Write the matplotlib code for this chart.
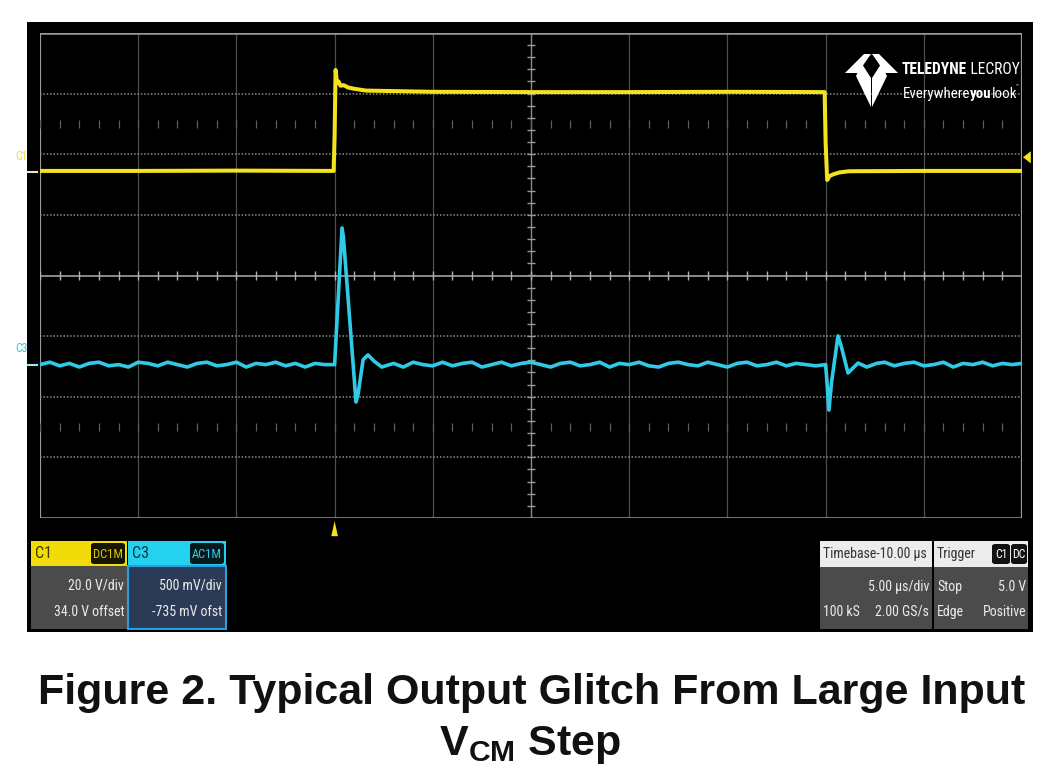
import matplotlib
matplotlib.use('Agg')
import matplotlib.pyplot as plt
from matplotlib import font_manager as fm
from matplotlib.patches import Rectangle, FancyBboxPatch, Polygon
import numpy as np

plt.rcParams['mathtext.fontset'] = 'custom'
plt.rcParams['mathtext.rm'] = 'Liberation Sans:bold'
plt.rcParams['mathtext.it'] = 'Liberation Sans:bold:italic'
plt.rcParams['mathtext.bf'] = 'Liberation Sans:bold'

W, H = 1063, 768
YELLOW = '#f3e21c'
CYAN = '#2fcbe6'

# pick a condensed face if one is installed, else Liberation Sans at a smaller size
_names = {f.name for f in fm.fontManager.ttflist}
NARROW, NSTRETCH, SC = None, 'normal', 0.84
for cand in ['Liberation Sans Narrow', 'Roboto Condensed', 'Open Sans Condensed',
             'Noto Sans Condensed', 'DejaVu Sans Condensed', 'Arial Narrow']:
    if cand in _names:
        NARROW, SC = cand, 1.0
        break
if NARROW is None:
    for f in fm.fontManager.ttflist:
        st = f.stretch
        if isinstance(st, str) and 'condensed' in st and f.name in ('Roboto', 'Open Sans', 'Noto Sans', 'DejaVu Sans'):
            NARROW, NSTRETCH, SC = f.name, st, 1.0
            break
if NARROW is None:
    NARROW = 'Liberation Sans'

# ---------------- scope settings ----------------
TDIV = 5.0            # us/div
T_LEFT = -15.0        # us at left edge (trigger at 0, delay -10 us)
C1_VDIV, C1_OFS = 20.0, 34.0      # V/div, V offset
C3_VDIV, C3_OFS = 0.5, -0.735     # V/div, V offset
TRIG_LEVEL = 5.0

# ---------------- C1 (input step, volts) ----------------
C1_t = [-15.0, -10.0, -5.0, -0.05, 0.0, 0.05, 0.12, 0.2, 0.3, 0.45, 0.7, 1.0,
        1.6, 5.0, 10.0, 15.0, 20.0, 24.95, 25.0, 25.08, 25.2, 25.4, 25.7, 26.2,
        30.0, 35.0]
C1_v = [0.5, 0.5, 0.6, 0.5, 12.0, 33.8, 29.5, 30.0, 28.6, 28.8, 28.0, 27.6,
        27.0, 26.6, 26.5, 26.5, 26.6, 26.5, 10.0, -2.5, -1.2, -0.6, 0.0, 0.4,
        0.5, 0.5]

# ---------------- C3 (output, volts, AC coupled) ----------------
C3_t = [-15.0, -14.5, -14.0, -13.5, -13.0, -12.5, -12.0, -11.5, -11.0, -10.5,
        -10.0, -9.5, -9.0, -8.5, -8.0, -7.5, -7.0, -6.5, -6.0, -5.5,
        -5.0, -4.5, -4.0, -3.5, -3.0, -2.5, -2.0, -1.5, -1.0, -0.5,
        0.0, 0.05, 0.38, 0.45, 1.09, 1.2, 1.45, 1.70, 2.0, 2.4,
        3.0, 3.5, 4.0, 4.5, 5.0, 5.5, 6.0, 6.5, 7.0, 7.5,
        8.0, 8.5, 9.0, 9.5, 10.0, 10.5, 11.0, 11.5, 12.0, 12.5,
        13.0, 13.5, 14.0, 14.5, 15.0, 15.5, 16.0, 16.5, 17.0, 17.5,
        18.0, 18.5, 19.0, 19.5, 20.0, 20.5, 21.0, 21.5, 22.0, 22.5,
        23.0, 23.5, 24.0, 24.5,
        25.0, 25.05, 25.17, 25.3, 25.63, 25.8, 26.14, 26.65, 27.1, 27.6,
        28.0, 28.5, 29.0, 29.5, 30.0, 30.5, 31.0, 31.5, 32.0, 32.5,
        33.0, 33.5, 34.0, 34.5, 35.0]
C3_v = [0.00, 0.02, -0.01, 0.01, -0.02, 0.01, 0.02, -0.01, 0.00, -0.02,
        0.02, 0.01, -0.01, 0.02, 0.00, -0.02, 0.01, 0.02, -0.01, 0.00,
        0.02, -0.02, 0.01, 0.00, 0.02, -0.01, 0.01, -0.02, 0.01, 0.00,
        0.00, 0.15, 1.127, 1.05, -0.309, -0.24, 0.04, 0.08, 0.03, -0.02,
        0.01, -0.02, 0.02, 0.00, -0.01, 0.02, -0.01, 0.01, 0.02, -0.02,
        0.00, 0.02, -0.01, 0.01, 0.02, 0.00, -0.02, 0.01, 0.02, -0.01,
        0.00, 0.02, -0.02, 0.01, 0.00, 0.02, -0.01, -0.02, 0.01, 0.02,
        0.00, -0.01, 0.02, 0.00, -0.02, 0.01, 0.02, -0.01, 0.00, 0.02,
        -0.01, 0.01, 0.00, -0.01,
        0.00, -0.10, -0.375, -0.15, 0.237, 0.15, -0.069, 0.013, -0.02, 0.01,
        0.02, -0.01, 0.01, 0.02, -0.01, 0.00, 0.02, -0.02, 0.01, 0.00,
        0.02, -0.01, 0.01, 0.00, 0.01]


def to_div(v, vdiv, ofs):
    return (np.asarray(v, dtype=float) + ofs) / vdiv


def fx(x):
    return x / W


def fy(y):
    return 1 - y / H


fig = plt.figure(figsize=(W / 100, H / 100), dpi=100)
fig.patch.set_facecolor('white')
renderer = fig.canvas.get_renderer()


def frect(x0, y0, x1, y1, color, ec='none', lw=0, z=1):
    fig.patches.append(Rectangle((fx(x0), fy(y1)), (x1 - x0) / W, (y1 - y0) / H,
                                 transform=fig.transFigure, facecolor=color,
                                 edgecolor=ec, lw=lw, zorder=z))


def fbox(x0, y0, x1, y1, color, z=2):
    fig.patches.append(FancyBboxPatch((fx(x0), fy(y1)), (x1 - x0) / W, (y1 - y0) / H,
                                      boxstyle='round,pad=0,rounding_size=0.003',
                                      transform=fig.transFigure, facecolor=color,
                                      edgecolor='none', zorder=z))


def ftext(x, y, s, color, size, ha='left', va='center', weight='normal'):
    return fig.text(fx(x), fy(y), s, color=color, fontsize=size * SC, ha=ha, va=va,
                    fontweight=weight, family=NARROW, fontstretch=NSTRETCH, zorder=5)


def chain(x, y, parts, size, color='white'):
    for s, wgt in parts:
        t = ftext(x, y, s, color, size, weight=wgt)
        x += t.get_window_extent(renderer).width


def fpoly(pts, color, z=3):
    fig.patches.append(Polygon([(fx(a), fy(b)) for a, b in pts], closed=True,
                               transform=fig.transFigure, facecolor=color,
                               edgecolor='none', zorder=z))


# black scope background
frect(27, 22, 1033, 632, 'black', z=-5)

# ---------------- grid axes ----------------
ax = fig.add_axes([fx(40), fy(518), 982 / W, 485 / H])
ax.set_xlim(T_LEFT, T_LEFT + 10 * TDIV)
ax.set_ylim(-4, 4)
ax.set_axis_off()

t_grid = [T_LEFT + k * TDIV for k in range(11)]
t_center = T_LEFT + 5 * TDIV
for k, t in enumerate(t_grid):
    if k in (0, 10):
        ax.axvline(t, color='#9a9a9a', lw=1.6, zorder=1)
    elif k == 5:
        ax.axvline(t, color='#8a8a8a', lw=1.0, zorder=1)
    else:
        ax.axvline(t, color='#4e4e4e', lw=0.9, zorder=1)
for d in range(-4, 5):
    if abs(d) == 4:
        ax.axhline(d, color='#9a9a9a', lw=1.8, zorder=1)
    elif d == 0:
        ax.axhline(d, color='#a0a0a0', lw=1.2, zorder=1)
    else:
        ax.axhline(d, color='#8c8c8c', lw=1.1, ls=(0, (1, 1.2)), zorder=1)

# minor ticks on centre cross and tick rows
minor_t = np.arange(T_LEFT, T_LEFT + 10 * TDIV + 0.01, TDIV / 5)
ax.vlines(minor_t, -0.08, 0.08, color='#b0b0b0', lw=1.0, zorder=1)
for row in (2.5, -2.5):
    ax.vlines(minor_t, row - 0.07, row + 0.07, color='#5e5e5e', lw=0.9, zorder=1)
minor_d = np.arange(-4, 4.01, 0.2)
ax.hlines(minor_d, t_center - 0.22, t_center + 0.22, color='#9a9a9a', lw=1.0, zorder=1)

# ---------------- traces ----------------
ax.plot(C1_t, to_div(C1_v, C1_VDIV, C1_OFS), color=YELLOW, lw=2.9,
        solid_joinstyle='round', zorder=5)
ax.plot(C3_t, to_div(C3_v, C3_VDIV, C3_OFS), color=CYAN, lw=2.6,
        solid_joinstyle='round', zorder=5)

# trigger position marker (bottom) and trigger level marker (right)
ax.add_patch(Polygon([(-0.17, -4.3), (0.17, -4.3), (0.0, -4.05)], closed=True,
                     facecolor=YELLOW, edgecolor='none', clip_on=False, zorder=6))
lvl = float(to_div(TRIG_LEVEL, C1_VDIV, C1_OFS))
xr = T_LEFT + 10 * TDIV
ax.add_patch(Polygon([(xr + 0.05, lvl), (xr + 0.45, lvl + 0.1), (xr + 0.45, lvl - 0.1)],
                     closed=True, facecolor=YELLOW, edgecolor='none', clip_on=False, zorder=6))

# channel labels on the left
c1_gnd = float(to_div(0, C1_VDIV, C1_OFS))
c3_gnd = float(to_div(0, C3_VDIV, C3_OFS))
for gnd, lab, col, mk in ((c1_gnd, 'C1', YELLOW, '#e8e8c0'), (c3_gnd, 'C3', CYAN, '#a0e8f0')):
    ax.text(-0.0125, gnd + 0.26, lab, transform=ax.get_yaxis_transform(), color=col,
            fontsize=8.5 * SC, ha='right', va='center', family=NARROW,
            fontstretch=NSTRETCH, clip_on=False)
    ax.plot([-0.012, -0.003], [gnd, gnd], transform=ax.get_yaxis_transform(),
            color=mk, lw=1.5, clip_on=False)

# ---------------- logo ----------------
fpoly([(845, 73), (864, 54), (871, 54), (866, 61), (858, 73)], 'white')
fpoly([(898, 73), (879, 54), (872, 54), (877, 61), (885, 73)], 'white')
fpoly([(862, 64), (871, 78), (871, 107), (856, 76)], 'white')
fpoly([(881, 64), (872, 78), (872, 107), (887, 76)], 'white')
chain(902, 69, [('TELEDYNE', 'bold'), (' LECROY', 'normal')], 11.2)
chain(903, 94, [('Everywhere', 'normal'), ('you', 'bold'), ('look', 'normal')], 10.8)
ftext(1016, 86, '\u2122', 'white', 4)

# ---------------- info panels ----------------
TXT = '#ececec'
BS = 10.0   # body text size
# C1
frect(31, 541, 127, 566, '#f1dc0a', z=1)
frect(31, 566, 127, 629, '#4b4b4b', z=1)
fbox(91, 543, 125, 564, '#161600')
ftext(35, 554, 'C1', '#3a3a10', 11.5)
ftext(108, 554, 'DC1M', '#d9c600', 9.0, ha='center')
ftext(124, 586, '20.0 V/div', TXT, BS, ha='right')
ftext(124, 612, '34.0 V offset', TXT, BS, ha='right')
# C3
frect(128, 541, 226, 566, '#24d2ef', z=1)
frect(128, 566, 226, 629, '#2b3b55', ec='#2a9fe0', lw=1.5, z=1)
fbox(190, 543, 224, 564, '#061a1e')
ftext(132, 554, 'C3', '#10383f', 11.5)
ftext(207, 554, 'AC1M', '#2fcbe6', 9.0, ha='center')
ftext(222, 586, '500 mV/div', TXT, BS, ha='right')
ftext(222, 612, '-735 mV ofst', TXT, BS, ha='right')
# Timebase
frect(820, 541, 932, 567, '#ececec', z=1)
frect(820, 567, 932, 629, '#4b4b4b', z=1)
ftext(823, 554, 'Timebase-10.00 \u00b5s', '#333333', BS)
ftext(929, 587, '5.00 \u00b5s/div', TXT, BS, ha='right')
ftext(823, 612, '100 kS', TXT, BS)
ftext(929, 612, '2.00 GS/s', TXT, BS, ha='right')
# Trigger
frect(934, 541, 1028, 567, '#ececec', z=1)
frect(934, 567, 1028, 629, '#4b4b4b', z=1)
ftext(937, 554, 'Trigger', '#333333', BS)
fbox(992, 544, 1010, 564, '#111111')
fbox(1011, 544, 1027, 564, '#111111')
ftext(1001, 554, 'C1', 'white', 8.5, ha='center')
ftext(1019, 554, 'DC', 'white', 8.5, ha='center')
ftext(937, 587, 'Stop', TXT, BS)
ftext(1026, 587, '5.0 V', TXT, BS, ha='right')
ftext(937, 612, 'Edge', TXT, BS)
ftext(1026, 612, 'Positive', TXT, BS, ha='right')

# ---------------- caption ----------------
fig.text(fx(532), fy(704), 'Figure 2. Typical Output Glitch From Large Input',
         fontsize=31, fontweight='bold', family='Liberation Sans', color='#111111',
         ha='center', va='baseline')
fig.text(fx(530), fy(755), r'$\mathrm{V_{CM}}$ Step',
         fontsize=31, fontweight='bold', family='Liberation Sans', color='#111111',
         ha='center', va='baseline')

fig.savefig('out.png', dpi=100, facecolor='white')
